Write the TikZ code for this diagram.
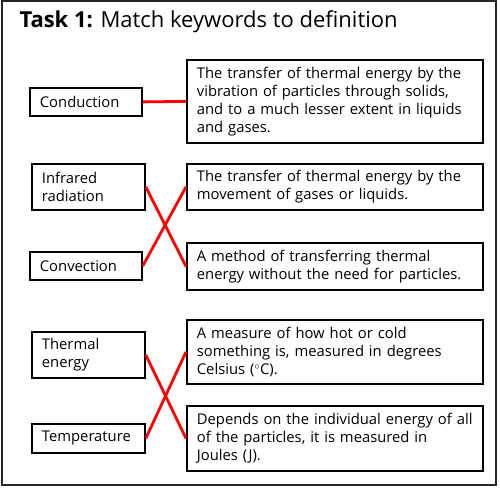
\documentclass[tikz,border=0pt]{standalone}
\usepackage{fontspec}
\setmainfont{Open Sans}
\begin{document}
\begin{tikzpicture}[x=1pt, y=-1pt, every node/.style={font=\fontsize{14.8}{18}\selectfont},
	key/.style={draw, line width=1.8pt, anchor=north west, align=left, text width=92pt, inner xsep=10pt, inner ysep=0pt},
	defn/.style={draw, line width=1.8pt, anchor=north west, align=left, text width=276pt, inner xsep=10pt, inner ysep=0pt},
	match/.style={red, line width=2.8pt}]
	\useasboundingbox (0,0) rectangle (500,489);
	\draw[line width=1.6pt, black!85] (2,1) rectangle (496,485);
	\node[anchor=base west, font=\fontsize{22}{26}\selectfont] (T) at (16,28) {\textbf{Task 1:} Match keywords to definition};
	\node[key, minimum height=28pt] (K1) at (29,87) {Conduction};
	\node[key, minimum height=46pt, text width=93pt] (K2) at (31,163) {Infrared\\radiation};
	\node[key, minimum height=28pt] (K3) at (29,251) {Convection};
	\node[key, minimum height=46pt, text width=93pt] (K4) at (31,331) {Thermal\\energy};
	\node[key, minimum height=29pt, text width=93pt] (K5) at (31,423) {Temperature};
	\node[defn, minimum height=83pt] (D1) at (186,59) {The transfer of thermal energy by the\\vibration of particles through solids,\\and to a much lesser extent in liquids\\and gases.};
	\node[defn, minimum height=46pt] (D2) at (186,163) {The transfer of thermal energy by the\\movement of gases or liquids.};
	\node[defn, minimum height=47pt] (D3) at (186,242) {A method of transferring thermal\\energy without the need for particles.};
	\node[defn, minimum height=64pt] (D4) at (186,319) {A measure of how hot or cold\\something is, measured in degrees\\Celsius ($^{\circ}$C).};
	\node[defn, minimum height=65pt] (D5) at (186,405) {Depends on the individual energy of all\\of the particles, it is measured in\\Joules (J).};
	\draw[match] (K1.east) -- (D1.west);
	\draw[match] (K2.east) -- (D3.west);
	\draw[match] (K3.east) -- (D2.west);
	\draw[match] (K4.east) -- (D5.west);
	\draw[match] (K5.east) -- (D4.west);
\end{tikzpicture}
\end{document}
